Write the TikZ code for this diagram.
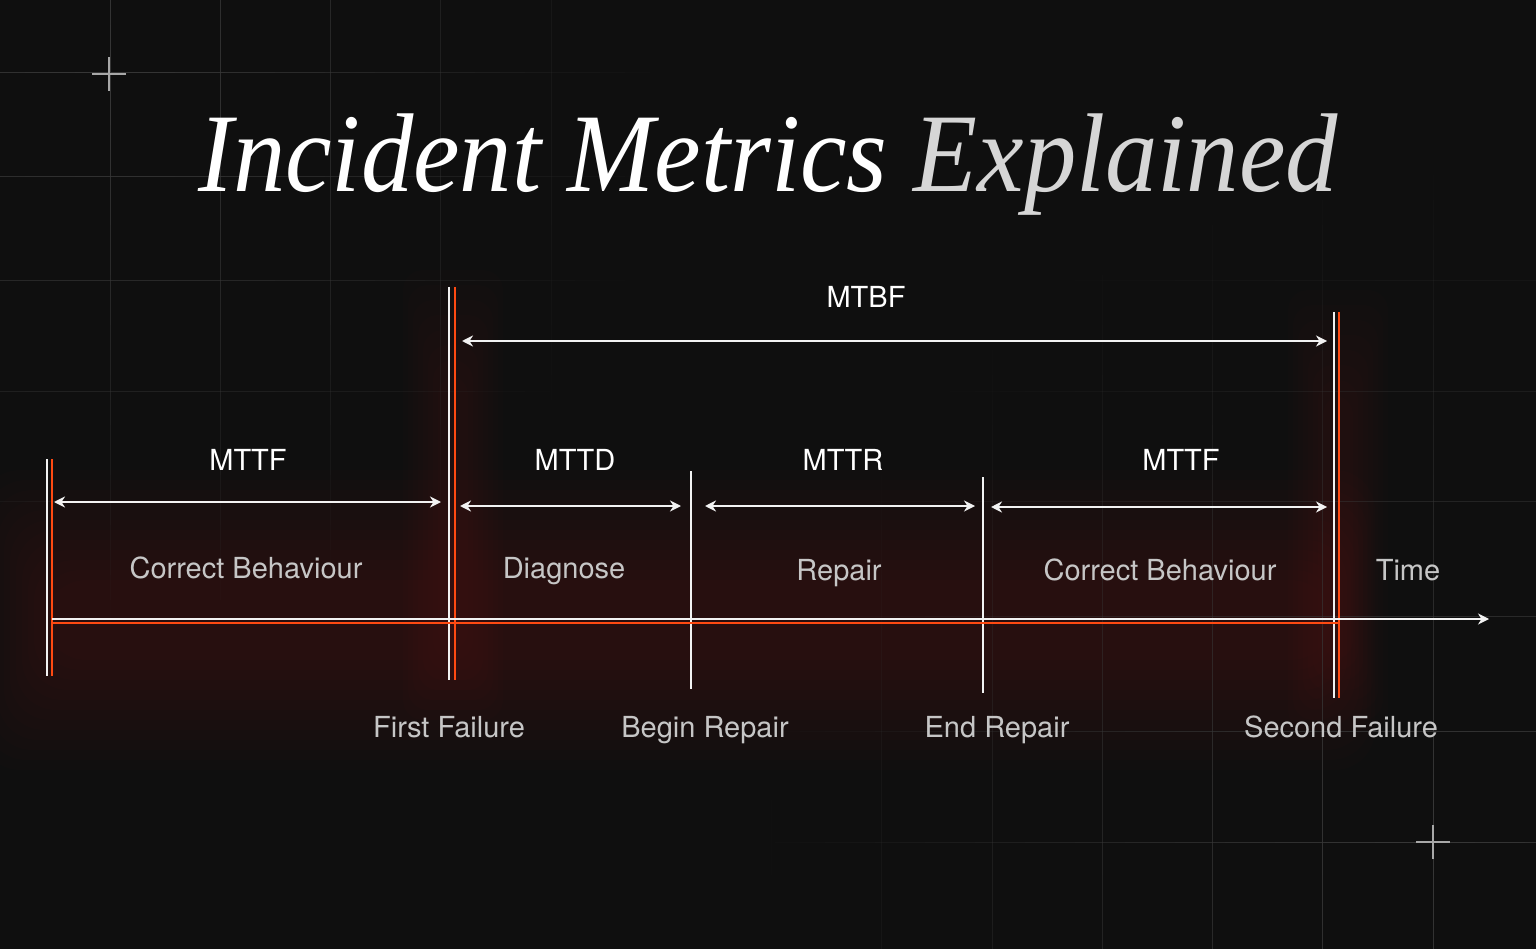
\documentclass[tikz,border=0pt]{standalone}
\usepackage{fontspec}
\usepackage{graphicx}
\newfontfamily\labelfont{TeX Gyre Heros}
\newfontfamily\titlefont{Liberation Serif}
\usetikzlibrary{arrows.meta}
\definecolor{bg}{HTML}{0F0F0F}
\definecolor{gridc}{HTML}{383838}
\definecolor{crossc}{HTML}{A8A8A8}
\definecolor{orangeline}{HTML}{FF4A12}
\definecolor{glowc}{HTML}{D8601A}
\definecolor{whiteline}{HTML}{F2F2F2}
\definecolor{labelgray}{HTML}{C6C6C6}
\definecolor{titlegray}{HTML}{D6D6D6}
\tikzset{
  tip/.tip={Stealth[length=11pt,width=11pt,inset=3.5pt]},
  metric/.style={font=\labelfont\fontsize{29}{32}\selectfont, text=white, inner sep=0pt, anchor=base},
  phase/.style={font=\labelfont\fontsize{29}{32}\selectfont, text=labelgray, inner sep=0pt, anchor=base},
  span/.style={draw=whiteline, line width=2pt, tip-tip},
  wmark/.style={draw=whiteline, line width=2pt},
  omark/.style={draw=orangeline, line width=2.2pt},
  gridline/.style={draw=gridc, line width=1pt},
  crossline/.style={draw=crossc, line width=1.3pt},
  glowlayer/.style={fill=glowc, opacity=0.011},
}
\begin{document}
\begin{tikzpicture}[x=1pt,y=-1pt]
\useasboundingbox (0,0) rectangle (1536,949);
\fill[bg] (0,0) rectangle (1536,949);
% glow
\foreach \k in {0,...,11}{
  \fill[glowlayer, rounded corners=40pt] (6*\k-20,470+10*\k) rectangle (1375-4*\k,770-10*\k);
}
\foreach \k in {0,...,7}{
  \fill[glowlayer, rounded corners=20pt] (403+5*\k,270+15*\k) rectangle (503-5*\k,720-10*\k);
  \fill[glowlayer, rounded corners=20pt] (1288+5*\k,290+15*\k) rectangle (1388-5*\k,730-10*\k);
}
% grid
\foreach \i in {-1,...,13}{
  \pgfmathsetmacro\gx{110+110.25*\i}
  \foreach \ya in {0,25,...,925}{
    \pgfmathsetmacro\my{\ya+12.5}
    \pgfmathsetmacro\op{max(0,1-veclen(\gx-110,\my-73)/560,1-veclen(\gx-1433,\my-842)/680)}
    \draw[gridline, draw opacity=\op] (\gx,\ya) -- (\gx,\ya+25);
  }
}
\foreach \gy in {73,177,281,391,501,616,731,842}{
  \foreach \xa in {0,25,...,1525}{
    \pgfmathsetmacro\mx{\xa+12.5}
    \pgfmathsetmacro\op{max(0,1-veclen(\mx-110,\gy-73)/560,1-veclen(\mx-1433,\gy-842)/680)}
    \draw[gridline, draw opacity=\op] (\xa,\gy) -- (\xa+25,\gy);
  }
}
% crosses
\coordinate (c1) at (109,74);
\coordinate (c2) at (1433,842);
\draw[crossline] ([xshift=-17pt]c1) -- ([xshift=17pt]c1);
\draw[crossline] ([yshift=-17pt]c1) -- ([yshift=17pt]c1);
\draw[crossline] ([xshift=-17pt]c2) -- ([xshift=17pt]c2);
\draw[crossline] ([yshift=-17pt]c2) -- ([yshift=17pt]c2);
% title
\node[anchor=base west, inner sep=0pt, font=\titlefont\fontsize{112}{120}\selectfont\itshape] (title) at (198,192)
  {\scalebox{0.935}[1]{\textcolor{white}{Incident Metrics} \textcolor{titlegray}{Explained}}};
% markers
\coordinate (m0wt) at (47,459);  \coordinate (m0wb) at (47,676);
\coordinate (m0ot) at (52,459);  \coordinate (m0ob) at (52,676);
\coordinate (m1wt) at (449,287); \coordinate (m1wb) at (449,680);
\coordinate (m1ot) at (455,287); \coordinate (m1ob) at (455,680);
\coordinate (m2t) at (691,471);  \coordinate (m2b) at (691,689);
\coordinate (m3t) at (983,477);  \coordinate (m3b) at (983,693);
\coordinate (m4wt) at (1334,312); \coordinate (m4wb) at (1334,698);
\coordinate (m4ot) at (1339,312); \coordinate (m4ob) at (1339,698);
\draw[wmark] (m0wt) -- (m0wb);
\draw[omark] (m0ot) -- (m0ob);
\draw[wmark] (m1wt) -- (m1wb);
\draw[omark] (m1ot) -- (m1ob);
\draw[wmark] (m2t) -- (m2b);
\draw[wmark] (m3t) -- (m3b);
\draw[wmark] (m4wt) -- (m4wb);
\draw[omark] (m4ot) -- (m4ob);
% timeline
\coordinate (tw0) at (52,619);  \coordinate (tw1) at (1489,619);
\coordinate (to0) at (52,623);  \coordinate (to1) at (1340,623);
\draw[whiteline, line width=2pt, -tip] (tw0) -- (tw1);
\draw[orangeline, line width=2.2pt] (to0) -- (to1);
% spans
\coordinate (s1a) at (54,502);   \coordinate (s1b) at (441,502);
\coordinate (s2a) at (460,506);  \coordinate (s2b) at (681,506);
\coordinate (s3a) at (705,506);  \coordinate (s3b) at (975,506);
\coordinate (s4a) at (991,507);  \coordinate (s4b) at (1327,507);
\coordinate (s5a) at (462,341);  \coordinate (s5b) at (1327,341);
\draw[span] (s1a) -- (s1b);
\draw[span] (s2a) -- (s2b);
\draw[span] (s3a) -- (s3b);
\draw[span] (s4a) -- (s4b);
\draw[span] (s5a) -- (s5b);
% metric labels
\node[metric] (mtbf) at (866,308) {MTBF};
\node[metric] (mttf1) at (248,470) {MTTF};
\node[metric] (mttd) at (575,470) {MTTD};
\node[metric] (mttr) at (843,470) {MTTR};
\node[metric] (mttf2) at (1181,470) {MTTF};
% phase labels
\node[phase] (cb1) at (246,578) {Correct Behaviour};
\node[phase] (diag) at (564,578) {Diagnose};
\node[phase] (rep) at (839,580) {Repair};
\node[phase] (cb2) at (1160,580) {Correct Behaviour};
\node[phase] (time) at (1408,580) {Time};
% event labels
\node[phase] (ff) at (449,737) {First Failure};
\node[phase] (br) at (705,737) {Begin Repair};
\node[phase] (er) at (997,737) {End Repair};
\node[phase] (sf) at (1341,737) {Second Failure};
\end{tikzpicture}
\end{document}
